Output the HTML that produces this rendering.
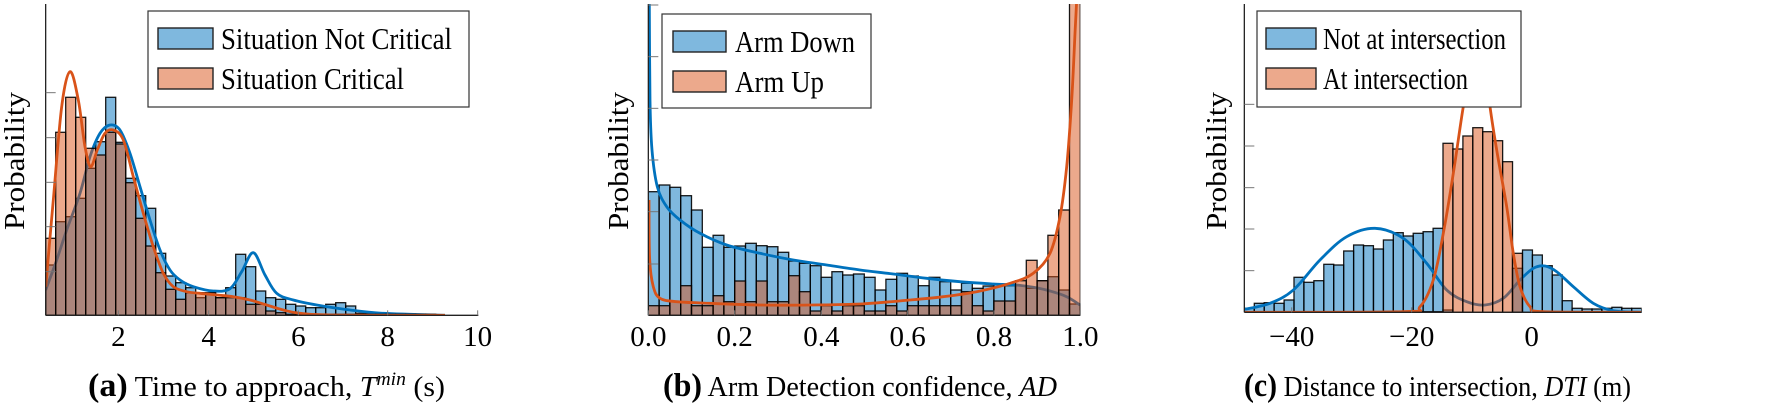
<!DOCTYPE html>
<html><head><meta charset="utf-8"><style>
html,body{margin:0;padding:0;background:#fff;}
svg{display:block;}
text{font-family:"Liberation Serif","DejaVu Serif",serif;fill:#000;}
</style></head><body>
<svg id="s" width="1773" height="407" xmlns="http://www.w3.org/2000/svg"></svg>
<script>
const S=document.getElementById('s');const NS='http://www.w3.org/2000/svg';
function el(t,a,txt){const e=document.createElementNS(NS,t);for(const k in a)e.setAttribute(k,a[k]);if(txt!==undefined)e.textContent=txt;S.appendChild(e);return e;}
function path(ox,oy,pts){
 const P=pts.map(p=>[ox+p[0]/3,oy+p[1]/3]);
 let d='M'+P[0][0].toFixed(1)+' '+P[0][1].toFixed(1);
 for(let i=0;i<P.length-1;i++){
  const p0=P[Math.max(0,i-1)],p1=P[i],p2=P[i+1],p3=P[Math.min(P.length-1,i+2)];
  const c1=[p1[0]+(p2[0]-p0[0])/6,p1[1]+(p2[1]-p0[1])/6];
  const c2=[p2[0]-(p3[0]-p1[0])/6,p2[1]-(p3[1]-p1[1])/6];
  d+=' C'+c1.map(v=>v.toFixed(1)).join(' ')+' '+c2.map(v=>v.toFixed(1)).join(' ')+' '+p2.map(v=>v.toFixed(1)).join(' ');
 }
 return d;}
function panel(P){
 const ox=P.ox, base=P.base;
 const cid='c'+ox; const cp=el('clipPath',{id:cid});
 const r=document.createElementNS(NS,'rect');r.setAttribute('x',ox+P.x0/3);r.setAttribute('y',4);r.setAttribute('width',(P.x1-P.x0)/3);r.setAttribute('height',base/3-4);cp.appendChild(r);
 const g=el('g',{'clip-path':'url(#'+cid+')'});
 function add(t,a){const e=document.createElementNS(NS,t);for(const k in a)e.setAttribute(k,a[k]);g.appendChild(e);return e;}
 const w=P.bw;
 function bars(tops,col){tops.forEach((t,i)=>{if(t>=base-1)return;const x=ox+(P.x0+i*w)/3;add('rect',{x:x.toFixed(1),y:(t/3).toFixed(1),width:(w/3).toFixed(2),height:((base-t)/3).toFixed(1),fill:col,'fill-opacity':0.5,stroke:'#000','stroke-opacity':0.9,'stroke-width':1.3});});}
 bars(P.blue,'#0072bd');
 add('path',{d:path(ox,0,P.bc),fill:'none',stroke:'#0072bd','stroke-width':2.8,'stroke-linejoin':'round'});
 bars(P.orange,'#d95319');
 add('path',{d:path(ox,0,P.oc),fill:'none',stroke:'#d95319','stroke-width':2.8,'stroke-linejoin':'round'});
 el('line',{x1:ox+P.x0/3,y1:4,x2:ox+P.x0/3,y2:base/3,stroke:'#222','stroke-width':1.3});
 el('line',{x1:ox+P.x0/3,y1:base/3,x2:ox+P.x1/3,y2:base/3,stroke:'#222','stroke-width':1.3});
 P.yt.forEach(y=>el('line',{x1:ox+P.x0/3,y1:y/3,x2:ox+P.x0/3+10,y2:y/3,stroke:'#777','stroke-width':1}));
 P.xt.forEach(t=>{el('line',{x1:ox+t[0]/3,y1:base/3,x2:ox+t[0]/3,y2:base/3-5,stroke:'#777','stroke-width':1});
  el('text',{x:ox+t[0]/3,y:346,'font-size':29,'text-anchor':'middle'},t[1]);});
 const L=P.leg;
 el('rect',{x:L.x,y:L.y,width:L.w,height:L.h,fill:'#fff',stroke:'#333','stroke-width':1.2});
 el('rect',{x:L.sx,y:L.y+17,width:L.sw,height:21,fill:'#7fb8de',stroke:'#222','stroke-width':1.4});
 el('rect',{x:L.sx,y:L.y+57,width:L.sw,height:21,fill:'#eca98c',stroke:'#222','stroke-width':1.4});
 el('text',{x:L.tx,y:L.y+38,'font-size':31,textLength:L.l1,lengthAdjust:'spacingAndGlyphs'},L.t1);
 el('text',{x:L.tx,y:L.y+78,'font-size':31,textLength:L.l2,lengthAdjust:'spacingAndGlyphs'},L.t2);
 el('text',{x:0,y:0,'font-size':28,'text-anchor':'middle',transform:'translate('+P.ylx+',161) rotate(-90)',textLength:138,lengthAdjust:'spacingAndGlyphs'},'Probability');
}
panel({ox:0,base:946,x0:137,x1:1435,bw:30,
 blue:[795,665,650,595,505,425,292,427,535,587,625,760,828,848,863,893,883,893,863,763,800,873,893,898,913,918,923,923,913,908,918,940,940,940,940,946,946,946,946,946],
 orange:[715,397,292,352,445,465,397,432,548,655,738,818,868,898,878,878,878,893,893,893,913,913,933,938,943,943,943,943,943,943,943,943,943,943,943,943,943,943,943,946],
 bc:[[137,870],[170,780],[200,690],[240,580],[270,470],[300,400],[330,375],[360,390],[390,460],[420,560],[450,660],[480,750],[510,810],[540,840],[580,860],[640,873],[690,866],[725,815],[760,758],[795,825],[830,880],[880,900],[950,915],[1050,930],[1150,940],[1335,946]],
 oc:[[137,860],[160,600],[185,320],[210,215],[235,300],[255,440],[272,500],[292,450],[315,400],[340,390],[370,420],[400,530],[430,640],[460,740],[490,820],[520,860],[560,875],[600,880],[650,885],[700,890],[750,900],[800,915],[850,930],[900,940],[1000,945],[1335,946]],
 yt:[815,680,547,413,278],
 xt:[[355,'2'],[626,'4'],[895,'6'],[1163,'8'],[1433,'10']],
 leg:{x:148,y:11,w:321,h:96,sx:158,sw:55,tx:221,t1:'Situation Not Critical',l1:231,t2:'Situation Critical',l2:183},
 ylx:24});
const bb=[575,555,562,587,630,742,706,742,738,730,737,740,757,783,790,797,832,815,825,822,832,870,838,820,828,857,832,845,870,850,865,858,852,857,857,865,842,830,870,912];
const bo=[917,917,905,857,917,917,887,905,843,905,843,905,905,827,875,933,917,933,917,917,933,933,917,933,917,917,917,917,917,875,917,933,903,903,842,781,842,706,630,0];
panel({ox:560,base:946,x0:265,x1:1561,bw:32.4,blue:bb,orange:bo,
 bc:[[268,0],[270,300],[276,450],[292,560],[320,620],[360,660],[420,700],[500,735],[600,760],[700,780],[800,795],[900,810],[1000,822],[1100,835],[1200,845],[1300,852],[1370,855],[1420,862],[1470,873],[1520,890],[1560,915]],
 oc:[[267,600],[269,780],[280,860],[300,895],[350,905],[450,910],[600,915],[750,915],[900,912],[1050,900],[1150,890],[1250,875],[1350,850],[1420,820],[1470,760],[1500,650],[1520,500],[1535,300],[1545,100],[1550,0]],
 yt:[792,635,480,325,170,15],
 xt:[[265,'0.0'],[524,'0.2'],[784,'0.4'],[1043,'0.6'],[1302,'0.8'],[1561,'1.0']],
 leg:{x:662,y:14,w:209,h:94,sx:673,sw:53,tx:735,t1:'Arm Down',l1:120,t2:'Arm Up',l2:89},
 ylx:628});
const cb=[925,910,908,910,900,832,847,842,793,795,753,735,737,747,720,698,708,700,695,685,930,937,946,946,946,946,946,805,750,765,797,825,902,925,927,927,925,922,925,925];
const co=[935,935,935,935,935,935,935,935,935,935,935,935,935,935,935,935,935,935,935,935,430,447,408,383,395,422,485,760,937,937,937,937,937,937,937,937,937,937,937,937];
panel({ox:1120,base:937,x0:373,x1:1565,bw:29.8,blue:cb,orange:co,
 bc:[[373,928],[450,910],[520,870],[600,780],[680,710],[765,685],[850,715],[920,790],[980,870],[1040,905],[1095,915],[1150,895],[1200,840],[1240,805],[1275,798],[1310,815],[1360,860],[1420,910],[1480,932],[1563,937]],
 oc:[[373,937],[850,935],[900,920],[940,840],[970,700],[1000,520],[1030,320],[1055,200],[1075,170],[1095,200],[1110,320],[1130,450],[1160,620],[1180,760],[1200,860],[1230,920],[1270,935],[1563,937]],
 yt:[812,687,563,438,313],
 xt:[[515,'\u221240'],[875,'\u221220'],[1235,'0']],
 leg:{x:1257,y:11,w:264,h:96,sx:1266,sw:50,tx:1323,t1:'Not at intersection',l1:183,t2:'At intersection',l2:145},
 ylx:1226});
function cap(x,parts,len){const t=el('text',{x:x,y:396,'font-size':29,textLength:len,lengthAdjust:'spacingAndGlyphs'});
 parts.forEach(p=>{const s=document.createElementNS(NS,'tspan');s.textContent=p[0];if(p[1])for(const k in p[1])s.setAttribute(k,p[1][k]);t.appendChild(s);});}
cap(88,[['(a)',{'font-weight':'bold','font-size':33}],[' Time to approach, '],['T',{'font-style':'italic'}],['min',{'font-style':'italic','font-size':19,dy:-11}],[' (s)',{dy:11}]],357);
cap(663,[['(b)',{'font-weight':'bold','font-size':33}],[' Arm Detection confidence, '],['AD',{'font-style':'italic'}]],394);
cap(1244,[['(c)',{'font-weight':'bold','font-size':33}],[' Distance to intersection, '],['DTI',{'font-style':'italic'}],[' (m)']],387);
</script>
</body></html>
